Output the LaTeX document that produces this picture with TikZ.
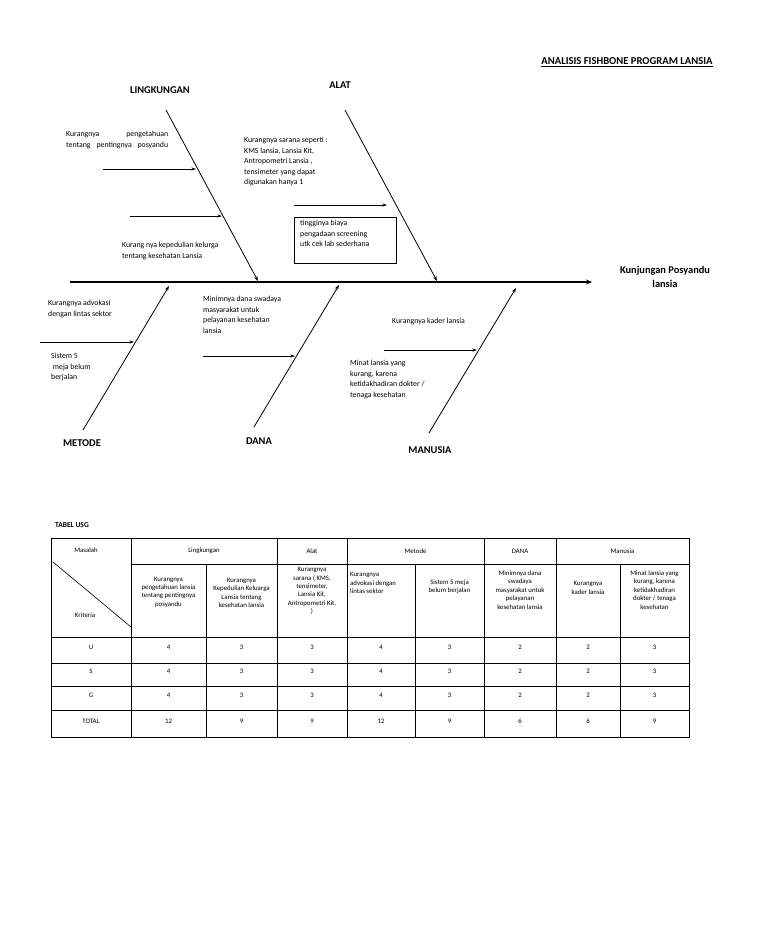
\documentclass[tikz,border=0pt]{standalone}
\usepackage{fontspec}
\setmainfont{Carlito}
\usetikzlibrary{arrows.meta}
\begin{document}
\begin{tikzpicture}[x=1pt,y=-1pt,
  bone/.style={line width=0.8pt,-{Stealth[length=5pt,width=3.5pt]}},
  spine/.style={line width=1.8pt,-{Stealth[length=6pt,width=5pt]}},
  subarrow/.style={line width=0.7pt,-{Stealth[length=4.5pt,width=3pt]}},
  small/.style={font=\fontsize{7.8}{10.5}\selectfont, inner sep=0pt, anchor=north west, align=left},
  cat/.style={font=\bfseries\fontsize{10.4}{12}\selectfont, inner sep=0pt},
  tcell/.style={font=\fontsize{6.8}{8.4}\selectfont, inner sep=0pt, align=center},
  num/.style={font=\fontsize{6.8}{8.4}\selectfont, inner sep=0pt, anchor=base},
  gridline/.style={line width=0.6pt}
]
\useasboundingbox (0,0) rectangle (768,932);
\fill[white] (0,0) rectangle (768,932);

% title
\node[font=\bfseries\fontsize{10.6}{12}\selectfont, inner sep=0pt] (title) at (627,62) {\underline{ANALISIS FISHBONE PROGRAM LANSIA}};

% categories
\node[cat] (lingk) at (160,90) {LINGKUNGAN};
\node[cat] (alat) at (340,85) {ALAT};
\node[cat] (metode) at (82,443) {METODE};
\node[cat] (dana) at (259,441) {DANA};
\node[cat] (manusia) at (430,450) {MANUSIA};
\node[cat, align=center, font=\bfseries\fontsize{10.4}{14}\selectfont] (effect) at (665,277) {Kunjungan Posyandu\\lansia};

% spine
\coordinate (S0) at (70,282);
\coordinate (S1) at (592,282);
\draw[spine] (S0) -- (S1);

% bones
\coordinate (L1) at (166,110); \coordinate (L2) at (258,281);
\coordinate (A1) at (345,110); \coordinate (A2) at (437,281);
\coordinate (M1) at (83,430);  \coordinate (M2) at (169,286);
\coordinate (D1) at (254,427); \coordinate (D2) at (339,285);
\coordinate (H1) at (429,433); \coordinate (H2) at (516,288);
\draw[bone] (L1) -- (L2);
\draw[bone] (A1) -- (A2);
\draw[bone] (M1) -- (M2);
\draw[bone] (D1) -- (D2);
\draw[bone] (H1) -- (H2);

% sub arrows
\coordinate (la1) at (103,169); \coordinate (lb1) at (196,169);
\coordinate (la2) at (130,216); \coordinate (lb2) at (222,216);
\coordinate (aa1) at (294,205); \coordinate (ab1) at (387,205);
\coordinate (ma1) at (40,342);  \coordinate (mb1) at (134,342);
\coordinate (da1) at (203,356); \coordinate (db1) at (295,356);
\coordinate (ha1) at (384,350); \coordinate (hb1) at (477,350);
\draw[subarrow] (la1) -- (lb1);
\draw[subarrow] (la2) -- (lb2);
\draw[subarrow] (aa1) -- (ab1);
\draw[subarrow] (ma1) -- (mb1);
\draw[subarrow] (da1) -- (db1);
\draw[subarrow] (ha1) -- (hb1);

% box
\node[draw, line width=0.8pt, minimum width=102pt, minimum height=46pt, inner sep=0pt] (box) at (345,240) {};

% texts
\node[small, text width=102pt, align=justify] (t1) at (66,131) {Kurangnya \hfill pengetahuan\\ tentang \hfill pentingnya \hfill posyandu};
\node[small] (t2) at (122,242) {Kurang nya kepedulian kelurga\\tentang kesehatan Lansia};
\node[small] (t3) at (244,137) {Kurangnya sarana seperti :\\KMS lansia, Lansia Kit,\\Antropometri Lansia ,\\tensimeter yang dapat\\digunakan hanya 1};
\node[small] (t4) at (300,220) {tingginya biaya\\pengadaan screening\\utk cek lab sederhana};
\node[small, font=\fontsize{7.8}{11}\selectfont] (t5) at (48,300) {Kurangnya advokasi\\dengan lintas sektor};
\node[small] (t6) at (51,353) {Sistem 5\\\ meja belum\\berjalan};
\node[small] (t7) at (203,296) {Minimnya dana swadaya\\masyarakat untuk\\pelayanan kesehatan\\lansia};
\node[small] (t8) at (392,318) {Kurangnya kader lansia};
\node[small] (t9) at (350,360) {Minat lansia yang\\kurang, karena\\ketidakhadiran dokter /\\tenaga kesehatan};

% table
\node[font=\bfseries\fontsize{7.5}{9}\selectfont, inner sep=0pt, anchor=west] (tabel) at (55,525) {TABEL USG};

\draw[gridline] (51,538) rectangle (689,737);
\foreach \x in {131,277,347,484,556} \draw[gridline] (\x,538) -- (\x,737);
\foreach \x in {206,415,620} \draw[gridline] (\x,564) -- (\x,737);
\draw[gridline] (131,564) -- (689,564);
\foreach \y in {637,663,686,710} \draw[gridline] (51,\y) -- (689,\y);
\draw[gridline] (53,562) -- (131,627);

\node[tcell] (masalah) at (86,550) {Masalah};
\node[tcell] (kriteria) at (85,615) {Kriteria};
\node[tcell] (hl) at (204,551) {Lingkungan};
\node[tcell] (ha) at (312,551) {Alat};
\node[tcell] (hm) at (415.5,551) {Metode};
\node[tcell] (hd) at (520,551) {DANA};
\node[tcell] (hh) at (622.5,551) {Manusia};

\node[tcell] (p1) at (168.5,592) {Kurangnya\\pengetahuan lansia\\tentang pentingnya\\posyandu};
\node[tcell] (p2) at (241.5,593) {Kurangnya\\Kepedulian Keluarga\\Lansia tentang\\kesehatan lansia};
\node[tcell] (p3) at (312,591) {Kurangnya\\sarana ( KMS,\\tensimeter,\\Lansia Kit,\\Antropometri Kit,\\)};
\node[tcell, anchor=west, align=left] (p4) at (350,583) {Kurangnya\\advokasi dengan\\lintas sektor};
\node[tcell] (p5) at (449.5,587) {Sistem 5 meja\\belum berjalan};
\node[tcell] (p6) at (520,590) {Minimnya dana\\swadaya\\masyarakat untuk\\pelayanan\\kesehatan lansia};
\node[tcell] (p7) at (588,588) {Kurangnya\\kader lansia};
\node[tcell] (p8) at (654.5,590) {Minat lansia yang\\kurang, karena\\ketidakhadiran\\dokter / tenaga\\kesehatan};

\foreach \lab/\y/\vals in {U/649.5/{4,3,3,4,3,2,2,3}, S/673.5/{4,3,3,4,3,2,2,3}, G/697.5/{4,3,3,4,3,2,2,3}, TOTAL/723.5/{12,9,9,12,9,6,6,9}} {
  \node[num] (r\lab) at (91,\y) {\lab};
  \foreach \v [count=\i] in \vals {
    \pgfmathsetmacro{\cx}{{0,168.5,241.5,312,381,449.5,520,588,654.5}[\i]}
    \node[num] (c\lab\i) at (\cx,\y) {\v};
  }
}
\end{tikzpicture}
\end{document}
